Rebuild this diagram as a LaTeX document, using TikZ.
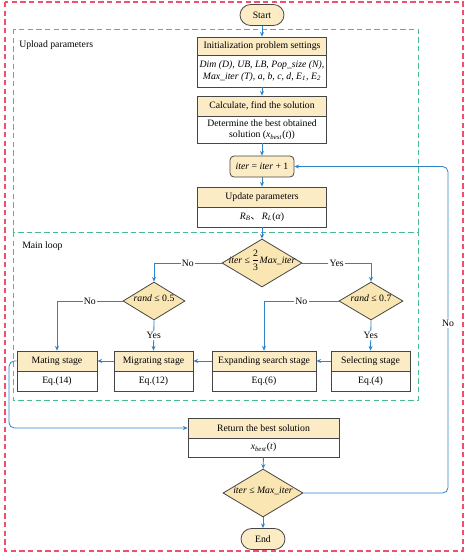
\documentclass[tikz,border=0pt]{standalone}
\usepackage{amsmath}
\usepackage{fontspec}
\setmainfont{Liberation Serif}
\newfontfamily\cjk{Noto Sans CJK SC}
\usetikzlibrary{shapes.geometric,arrows.meta,calc}
\definecolor{hdr}{RGB}{252,236,198}
\definecolor{dia}{RGB}{250,230,178}
\definecolor{flow}{RGB}{45,130,200}
\definecolor{grn}{RGB}{70,190,140}
\definecolor{rd}{RGB}{240,80,110}
\definecolor{edgec}{RGB}{70,70,70}
\newcommand{\zbox}[1]{\raisebox{0pt}[0pt][0pt]{\makebox[0pt]{#1}}}
\begin{document}
\begin{tikzpicture}[x=0.75pt,y=-0.75pt,
  font=\fontsize{7.3}{8.6}\selectfont,
  hd/.style 2 args={draw=edgec, line width=0.6pt, fill=hdr, inner sep=0pt,
    minimum width=#1*0.75pt, minimum height=#2*0.75pt, align=center},
  bd/.style 2 args={draw=edgec, line width=0.6pt, fill=white, inner sep=0pt,
    minimum width=#1*0.75pt, minimum height=#2*0.75pt, align=center},
  term/.style={draw=edgec, line width=0.6pt, fill=hdr, rounded corners=8pt,
    minimum width=44*0.75pt, minimum height=21*0.75pt, inner sep=0pt},
  dec/.style 2 args={diamond, draw=edgec, line width=0.6pt, fill=dia, inner sep=0pt,
    minimum width=#1*0.75pt, minimum height=#2*0.75pt},
  flowline/.style={draw=flow, line width=0.6pt, -{Stealth[length=3.5pt,width=3pt]}},
  lab/.style={fill=white, inner sep=1pt, text=black},
  grnbox/.style={draw=grn, line width=0.6pt, dash pattern=on 4pt off 2.5pt},
  redbox/.style={draw=rd, line width=0.9pt, dash pattern=on 4pt off 2.5pt}
]
\useasboundingbox (0,0) rectangle (474,553);
% frames
\draw[redbox] (5,2) rectangle (463,551);
\draw[grnbox] (13,29) rectangle (418,232);
\draw[grnbox] (13,232) rectangle (418,400);
\node[anchor=west, inner sep=0pt] (uplab) at (19,45) {Upload parameters};
\node[anchor=west, inner sep=0pt] (mllab) at (22,246) {Main loop};

% main column
\node[term] (start) at (262,15) {Start};
\node[hd={129}{18}] (initH) at (262,46) {Initialization problem settings};
\node[bd={129}{32}] (initB) at (262,71) {\itshape Dim (D), UB, LB, Pop\_size (N),\\ \itshape Max\_iter (T), a, b, c, d, E\textsubscript{1}, E\textsubscript{2}};
\node[hd={129}{20}] (calcH) at (262,106) {Calculate, find the solution};
\node[bd={129}{27}] (calcB) at (262,129.5) {Determine the best obtained\\ solution (\textit{x}\textsubscript{\textit{best}}(\textit{t}))};
\node[hd={64}{21}, rounded corners=3pt] (iter) at (262,166.5) {\textit{iter} = \textit{iter} + 1};
\node[hd={129}{20}] (updH) at (262,197) {Update parameters};
\node[bd={129}{20}] (updB) at (262,217) {\textit{R}\textsubscript{\textit{B}}{\cjk 、}\,\textit{R}\textsubscript{\textit{L}}(\textit{α})};

\node[dec={80}{48}] (d1) at (262,263) {\zbox{\textit{iter} ≤\,$\dfrac{\text{2}}{\text{3}}$\textit{Max\_iter}}};
\node[dec={64}{38}] (d2) at (371,301) {\zbox{\textit{rand} ≤ 0.7}};
\node[dec={62}{38}] (d3) at (154,301) {\zbox{\textit{rand} ≤ 0.5}};

\node[hd={80}{20}] (matH) at (57,361) {Mating stage};
\node[bd={80}{20}] (matB) at (57,381) {Eq.(14)};
\node[hd={79}{20}] (migH) at (153.5,361) {Migrating stage};
\node[bd={79}{20}] (migB) at (153.5,381) {Eq.(12)};
\node[hd={104}{20}] (expH) at (264,361) {Expanding search stage};
\node[bd={104}{20}] (expB) at (264,381) {Eq.(6)};
\node[hd={79}{20}] (selH) at (370.5,361) {Selecting stage};
\node[bd={79}{20}] (selB) at (370.5,381) {Eq.(4)};

\node[hd={151}{20}] (retH) at (263.5,428) {Return the best solution};
\node[bd={151}{19}] (retB) at (263.5,447.5) {\textit{x}\textsubscript{\textit{best}}(\textit{t})};
\node[dec={80}{48}] (d4) at (263,493) {\zbox{\textit{iter} ≤ \textit{Max\_iter}}};
\node[term] (end) at (263,539) {End};

\coordinate (lx) at (9,0);
\coordinate (rx) at (448,0);

% connectors
\draw[flowline] (start) -- (initH);
\draw[flowline] (initB) -- (calcH);
\draw[flowline] (calcB) -- (iter);
\draw[flowline] (iter) -- (updH);
\draw[flowline] (updB) -- (d1);
\draw[flowline] (d1.east) -| node[lab, pos=0.25] {Yes} (d2.north);
\draw[flowline] (d1.west) -| node[lab, pos=0.25] {No} (d3.north);
\draw[flowline] (d2.west) -| node[lab, pos=0.25] {No} (expH.north);
\draw[flowline] (d2.south) -- node[lab] {Yes} (selH.north);
\draw[flowline] (d3.west) -| node[lab, pos=0.25] {No} (matH.north);
\draw[flowline] (d3.south) -- node[lab] {Yes} (migH.north);
\draw[flowline] (selH.west) -- (expH.east);
\draw[flowline] (expH.west) -- (migH.east);
\draw[flowline] (migH.west) -- (matH.east);
\draw[flowline, rounded corners=4pt] (matH.west) -- (matH.west -| lx) -- (retH.west -| lx) -- (retH.west);
\draw[flowline] (retB) -- (d4);
\draw[flowline] (d4) -- (end);
\draw[flowline, rounded corners=4pt] (d4.east) -- (d4.east -| rx) -- node[lab, pos=0.52] {No} (iter.east -| rx) -- (iter.east);
\end{tikzpicture}
\end{document}
